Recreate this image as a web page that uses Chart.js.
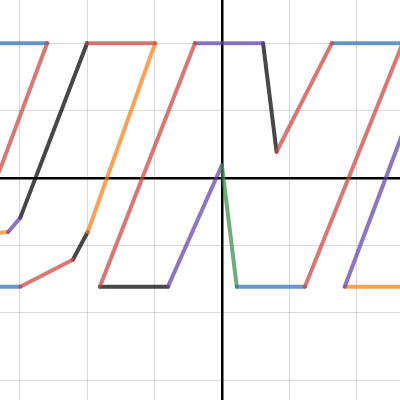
<!DOCTYPE html>
<html>
<head>
<meta charset="utf-8">
<script src="https://cdn.jsdelivr.net/npm/chart.js@4"></script>
<style>
  html, body { margin: 0; padding: 0; background: #fff; }
  #wrap { width: 400px; height: 400px; }
</style>
</head>
<body>
<div id="wrap"><canvas id="c"></canvas></div>
<script>
/* view window (graph units) */
const xRange = [-3.29, 2.64];
const yRange = [-3.29, 2.64];
const gridTicks = [-3, -2, -1, 0, 1, 2];

/* segments: [[x1,y1],[x2,y2]] */
const blueSegs = [
  [[-3.3, 2], [-2.59, 2]],
  [[-3.3, -1.61], [-2.99, -1.61]],
  [[0.22, -1.61], [1.23, -1.61]],
  [[1.63, 2], [2.7, 2]]
];
const redSegs = [
  [[-2.59, 2], [-3.3, 0.1]],
  [[-2.99, -1.61], [-2.21, -1.21]],
  [[-2, 2], [-0.99, 2]],
  [[-1.81, -1.61], [-0.4, 2]],
  [[0.81, 0.39], [1.63, 2]],
  [[1.23, -1.61], [2.7, 2.05]]
];
const blackSegs = [
  [[-2, 2], [-2.99, -0.59]],
  [[-2.21, -1.21], [-1.99, -0.8]],
  [[-1.81, -1.61], [-0.8, -1.61]],
  [[0.61, 2], [0.81, 0.39]]
];
const purpleSegs = [
  [[-2.99, -0.59], [-3.17, -0.8]],
  [[-0.8, -1.61], [0, 0.19]],
  [[-0.4, 2], [0.61, 2]],
  [[1.82, -1.61], [2.7, 0.72]]
];
const orangeSegs = [
  [[-3.3, -0.81], [-3.17, -0.8]],
  [[-1.99, -0.8], [-0.99, 2]],
  [[1.82, -1.61], [2.7, -1.61]]
];
const greenSegs = [
  [[0, 0.19], [0.22, -1.61]]
];

const groups = [
  [redSegs, 'rgba(199,68,64,0.72)'],
  [blueSegs, 'rgba(45,112,179,0.72)'],
  [greenSegs, 'rgba(56,140,70,0.72)'],
  [purpleSegs, 'rgba(96,66,166,0.72)'],
  [orangeSegs, 'rgba(250,126,25,0.72)'],
  [blackSegs, 'rgba(0,0,0,0.72)']
];

const datasets = [];
groups.forEach(([segs, color]) => {
  segs.forEach(s => datasets.push({
    data: s.map(p => ({ x: p[0], y: p[1] })),
    showLine: true, borderColor: color, borderWidth: 4,
    pointRadius: 0, borderCapStyle: 'round', fill: false
  }));
});

const gridColor = ctx => ctx.tick && ctx.tick.value === 0 ? '#000' : 'rgba(0,0,0,0.15)';
const gridWidth = ctx => ctx.tick && ctx.tick.value === 0 ? 2.5 : 1;
function axis(range) {
  return {
    type: 'linear', min: range[0], max: range[1],
    afterBuildTicks: a => { a.ticks = gridTicks.map(v => ({ value: v })); },
    ticks: { display: false },
    border: { display: false },
    grid: { color: gridColor, lineWidth: gridWidth, drawTicks: false }
  };
}

new Chart(document.getElementById('c'), {
  type: 'scatter',
  data: { datasets },
  options: {
    responsive: true, maintainAspectRatio: false, animation: false,
    layout: { padding: 0 },
    clip: false,
    plugins: { legend: { display: false }, tooltip: { enabled: false } },
    scales: { x: axis(xRange), y: axis(yRange) }
  }
});
</script>
</body>
</html>
